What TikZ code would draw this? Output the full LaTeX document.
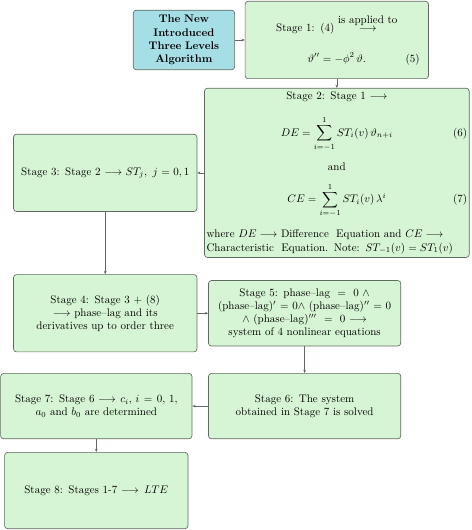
\documentclass[tikz,border=0pt]{standalone}
\usepackage{amsmath,amssymb}
\usepackage{tikz}
\usetikzlibrary{positioning,arrows.meta,calc}
\definecolor{stagegreen}{RGB}{214,245,212}
\definecolor{algocyan}{RGB}{166,222,230}
\definecolor{stageline}{RGB}{95,105,95}
\tikzset{
  stage/.style={draw=stageline, fill=stagegreen, line width=0.6pt,
    rounded corners=2.7pt, align=center, inner xsep=4pt},
  algo/.style={stage, fill=algocyan, font=\bfseries}
}

\begin{document}
\begin{tikzpicture}[>={Stealth[length=3pt,width=2.4pt]}]
  \node[algo, text width=84pt, minimum height=54pt] (s_0) {The New\\ Introduced\\ Three Levels\\ Algorithm};
  \node[stage, text width=150.5pt, inner xsep=8pt, minimum height=70.2pt] (s_1) [right=9pt of s_0]
    {\abovedisplayskip=16pt \belowdisplayskip=4pt
     Stage 1: (4) $\stackrel{\mbox{is applied to}}{\longrightarrow}$
     \begin{equation*} \vartheta'' = -\phi^2\,\vartheta. \tag{5} \end{equation*}};
  \node[stage, text width=236.7pt, inner xsep=1.8pt, minimum height=151.2pt] (s_2) [below=8.1pt of s_1]
    {\vspace*{2pt}Stage 2: Stage 1 $\longrightarrow$
     \begin{equation*} DE = \sum_{i=-1}^{1} ST_i(v)\,\vartheta_{n+i} \tag{6} \end{equation*}
     and
     \begin{equation*} CE = \sum_{i=-1}^{1} ST_i(v)\,\lambda^i \tag{7} \end{equation*}
     \begin{minipage}{\linewidth}\thickmuskip=5mu
     where $DE \longrightarrow$ Difference\ \ Equation and $CE \longrightarrow$
     Characteristic\ \ Equation. Note: $ST_{-1}(v) = ST_1(v)$
     \end{minipage}};
  \node[stage, text width=158.5pt, minimum height=70.2pt] (s_3) [left=6.3pt of s_2]
    {Stage 3: Stage 2 $\longrightarrow ST_j,\ j = 0,1$};
  \node[stage, text width=158.5pt, minimum height=70.2pt] (s_4) [below=56.7pt of s_3]
    {Stage 4: Stage 3 + (8)\\ $\longrightarrow$ phase--lag and its\\ derivatives up to order three};
  \node[stage, text width=166.6pt, minimum height=59.4pt] (s_5) [right=9.9pt of s_4]
    {Stage 5: phase--lag~~$=$~~0 $\wedge$\\
     (phase--lag)$' = 0 \wedge$ (phase--lag)$'' = 0$\\
     $\wedge$ (phase--lag)$'''$~~$=$~~0 $\longrightarrow$\\
     system of 4 nonlinear equations};
  \node[stage, text width=166.6pt, minimum height=59.4pt] (s_6) [below=24.3pt of s_5]
    {Stage 6: The system\\ obtained in Stage 7 is solved};
  \node[stage, text width=165.7pt, minimum height=59.4pt] (s_7) [left=14.4pt of s_6]
    {Stage 7: Stage 6 $\longrightarrow c_i$, $i = 0$, 1,\\ $a_0$ and $b_0$ are determined};
  \node[stage, text width=158.5pt, minimum height=69.3pt] (s_8) [below=11.7pt of s_7]
    {Stage 8: Stages 1-7 $\longrightarrow LTE$};
  \path[->, stageline, line width=0.6pt]
        (s_0) edge (s_1)
        (s_1) edge (s_2)
        (s_2) edge (s_3)
        (s_3) edge (s_4)
        (s_4) edge (s_5)
        (s_5) edge (s_6)
        (s_6) edge (s_7)
        (s_7) edge (s_8);
  \useasboundingbox ($(s_7.west |- s_1.north)+(-0.3pt,0.9pt)$) rectangle ($(s_2.east |- s_8.south)+(1.8pt,-0.9pt)$);
\end{tikzpicture}
\end{document}
